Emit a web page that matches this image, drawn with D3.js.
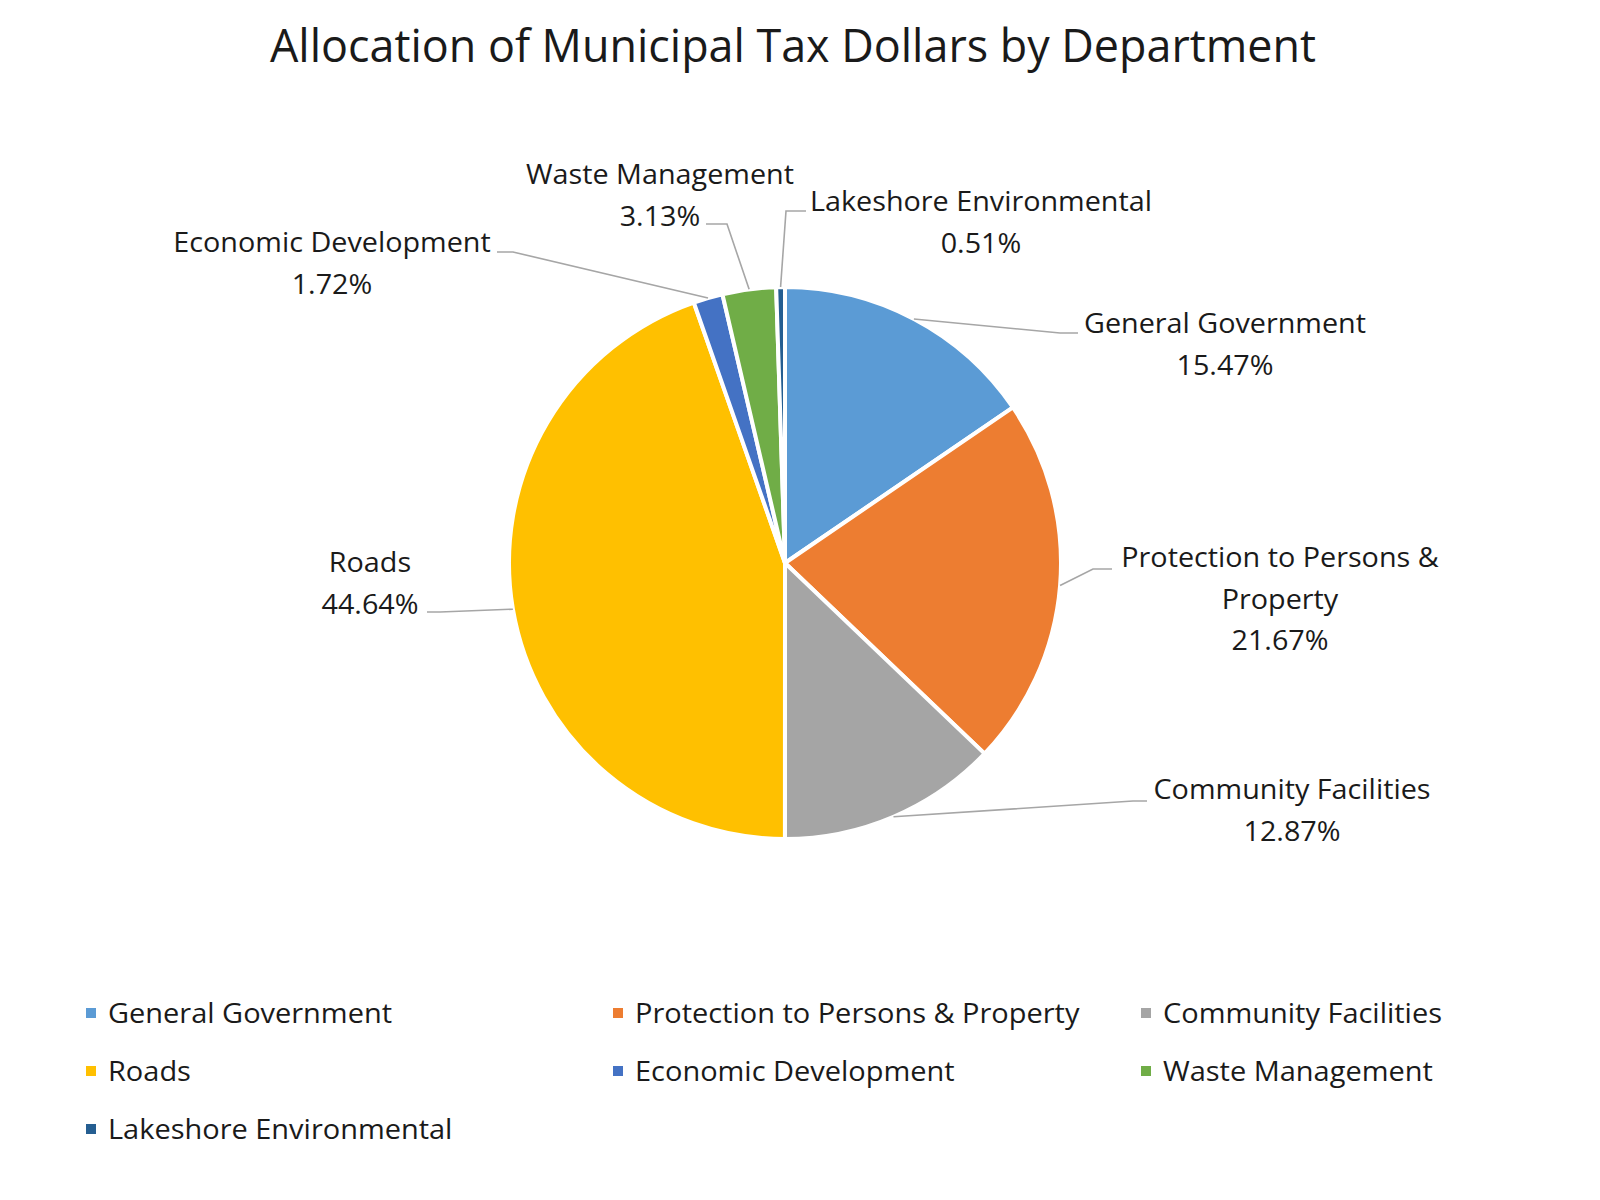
<!DOCTYPE html>
<html>
<head>
<meta charset="utf-8">
<script src="https://cdn.jsdelivr.net/npm/d3@7"></script>
<style>
  html, body { margin: 0; padding: 0; background: #fff; }
  svg { display: block; }
  text { font-family: "Open Sans", "Noto Sans", sans-serif; fill: #1a1a1a; }
</style>
</head>
<body>
<svg id="chart" width="1600" height="1200"></svg>
<script>
// ---- data ----
const categories = [
  "General Government",
  "Protection to Persons & Property",
  "Community Facilities",
  "Roads",
  "Economic Development",
  "Waste Management",
  "Lakeshore Environmental"
];
const values = [15.47, 21.67, 12.87, 44.64, 1.72, 3.13, 0.51];
const colors = ["#5B9BD5", "#ED7D31", "#A5A5A5", "#FFC000", "#4472C4", "#70AD47", "#255E91"];
// data-label text lines (category name wrapped as in the chart)
const labelNameLines = [
  ["General Government"],
  ["Protection to Persons &", "Property"],
  ["Community Facilities"],
  ["Roads"],
  ["Economic Development"],
  ["Waste Management"],
  ["Lakeshore Environmental"]
];
const title = "Allocation of Municipal Tax Dollars by Department";

// ---- layout (positions only) ----
const W = 1600, H = 1200;
const cx = 785, cy = 563, R = 276;
const lineH = 41.5;
const labelLayout = [
  { x: 1225, y: 333, elbow: [1060, 333], end: [1078, 333] },
  { x: 1280, y: 567, elbow: [1093, 569], end: [1112, 569] },
  { x: 1292, y: 799, elbow: [1133, 801], end: [1147, 801] },
  { x: 370,  y: 572, elbow: [440, 612],  end: [427, 612] },
  { x: 332,  y: 252, elbow: [513, 252],  end: [497, 252] },
  { x: 660,  y: 184, elbow: [727, 224],  end: [706, 224] },
  { x: 981,  y: 211, elbow: [786, 211],  end: [806, 211] }
];
const legendCols = [86, 613, 1141];
const legendRows = [1013, 1071, 1129];

const svg = d3.select("#chart");
const data = categories.map((c, i) => ({ name: c, value: values[i], color: colors[i], i }));

// helper: compress text horizontally to mimic the narrow original face
function fit(sel, ratio) {
  sel.each(function () {
    const w = this.getComputedTextLength();
    d3.select(this).attr("textLength", w * ratio).attr("lengthAdjust", "spacingAndGlyphs");
  });
}

// ---- title ----
const titleSel = svg.append("text")
  .attr("x", 793).attr("y", 62)
  .attr("text-anchor", "middle")
  .style("font-size", "46px")
  .text(title);
const tw = titleSel.node().getComputedTextLength();
fit(titleSel, 1046 / tw);

// ---- pie ----
const pie = d3.pie().sort(null).value(d => d.value).startAngle(0).endAngle(2 * Math.PI);
const arcs = pie(data);
const arc = d3.arc().innerRadius(0).outerRadius(R);

const g = svg.append("g").attr("transform", `translate(${cx},${cy})`);
g.selectAll("path.slice")
  .data(arcs)
  .join("path")
  .attr("class", "slice")
  .attr("d", arc)
  .attr("fill", d => d.data.color)
  .attr("stroke", "#fff")
  .attr("stroke-width", 4)
  .attr("stroke-linejoin", "round");

// ---- leader lines ----
const leaders = svg.append("g");
arcs.forEach((a, i) => {
  const mid = (a.startAngle + a.endAngle) / 2;
  const p0 = [cx + R * Math.sin(mid), cy - R * Math.cos(mid)];
  const L = labelLayout[i];
  leaders.append("path")
    .attr("d", d3.line()([p0, L.elbow, L.end]))
    .attr("fill", "none")
    .attr("stroke", "#A6A6A6")
    .attr("stroke-width", 1.6);
});

// ---- data labels ----
const labelFont = 28;
const probe = svg.append("text").style("font-size", labelFont + "px").text("General Government");
const labelRatio = 282 / probe.node().getComputedTextLength();
const legendRatio = 284 / probe.node().getComputedTextLength();
probe.remove();

const labels = svg.append("g");
data.forEach((d, i) => {
  const L = labelLayout[i];
  const lines = labelNameLines[i].concat([d.value.toFixed(2) + "%"]);
  lines.forEach((t, k) => {
    const tx = labels.append("text")
      .attr("x", L.x)
      .attr("y", L.y + k * lineH)
      .attr("text-anchor", "middle")
      .style("font-size", labelFont + "px")
      .text(t);
    fit(tx, labelRatio);
  });
});

// ---- legend ----
const legend = svg.append("g");
data.forEach((d, i) => {
  const col = i % 3, row = Math.floor(i / 3);
  const x = legendCols[col], y = legendRows[row];
  legend.append("rect")
    .attr("x", x).attr("y", y - 5)
    .attr("width", 10).attr("height", 10)
    .attr("fill", d.color);
  const tx = legend.append("text")
    .attr("x", x + 22).attr("y", y + 9.5)
    .style("font-size", labelFont + "px")
    .text(d.name);
  fit(tx, legendRatio);
});
</script>
</body>
</html>
